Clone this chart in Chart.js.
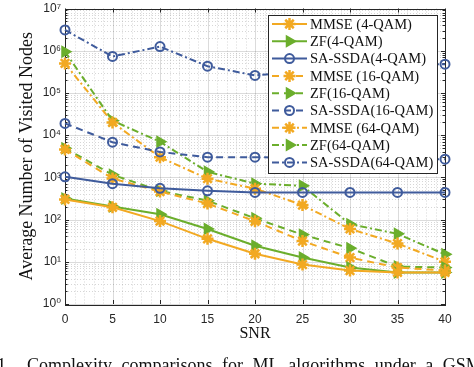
<!DOCTYPE html>
<html>
<head>
<meta charset="utf-8">
<script src="https://cdn.jsdelivr.net/npm/chart.js@4.4.1/dist/chart.umd.min.js"></script>
<style>
  html, body { margin: 0; padding: 0; background: #fff; overflow: hidden; }
  #wrap { position: relative; width: 474px; height: 367px; overflow: hidden; }
  .cap {
    position: absolute; top: 355px; white-space: nowrap; line-height: 18px;
    font: 18px "Liberation Serif", serif; color: #111;
  }
  #capNum { left: -3px; }
  #capText { left: 27px; word-spacing: 5px; }
</style>
</head>
<body>
<div id="wrap">
  <canvas id="chart" width="474" height="367"></canvas>
  <div class="cap" id="capNum">1.</div>
  <div class="cap" id="capText">Complexity comparisons for ML algorithms under a GSM MIMO system</div>
</div>
<script>
const snr = [0, 5, 10, 15, 20, 25, 30, 35, 40];

const mmse4 = [300, 195, 92, 35, 15.5, 8.6, 6.2, 5.6, 5.6];
const zf4 = [316, 205, 133, 60, 24, 12.6, 7.3, 5.6, 5.6];
const ssda4 = [1030, 710, 550, 480, 440, 440, 440, 440, 440];
const mmse16 = [4600, 940, 460, 240, 91, 31, 12.6, 7.3, 6.2];
const zf16 = [4900, 1150, 480, 280, 107, 44, 21, 7.7, 7.3];
const ssda16 = [19000, 6800, 4000, 3000, 3000, 2900, 2800, 2700, 2700];
const mmse64 = [500000, 20000, 3000, 930, 540, 220, 60, 27, 10];
const zf64 = [950000, 22000, 7000, 1350, 710, 630, 78, 46, 15];
const ssda64 = [3100000, 730000, 1250000, 430000, 260000, 320000, 400000, 470000, 480000];

const seriesNames = [
  'MMSE (4-QAM)', 'ZF(4-QAM)', 'SA-SSDA(4-QAM)',
  'MMSE (16-QAM)', 'ZF(16-QAM)', 'SA-SSDA(16-QAM)',
  'MMSE (64-QAM)', 'ZF(64-QAM)', 'SA-SSDA(64-QAM)'
];

const ORANGE = '#F2A922';
const GREEN = '#6BAE2C';
const BLUE = '#3F5B9C';
const AXIS = '#262626';

const SOLID = [];
const DASHED = [7, 5];
const DASHDOT = [7, 3, 2, 3];

function series(label, values, color, dash, kind) {
  const ds = {
    label: label,
    data: snr.map((x, i) => ({ x: x, y: values[i] })),
    borderColor: color,
    backgroundColor: color,
    borderWidth: 2,
    borderDash: dash,
    pointBorderColor: color,
    clip: false,
    tension: 0
  };
  if (kind === 'star') {
    ds.pointStyle = 'star';
    ds.pointRadius = 6;
    ds.pointBorderWidth = 2.5;
    ds.pointBackgroundColor = color;
  } else if (kind === 'tri') {
    ds.pointStyle = 'triangle';
    ds.pointRotation = 90;
    ds.pointRadius = 6;
    ds.pointBorderWidth = 1.5;
    ds.pointBackgroundColor = color;
  } else {
    ds.pointStyle = 'circle';
    ds.pointRadius = 4.5;
    ds.pointBorderWidth = 2;
    ds.pointBackgroundColor = 'rgba(255,255,255,0)';
  }
  return ds;
}

const datasets = [
  series(seriesNames[0], mmse4, ORANGE, SOLID, 'star'),
  series(seriesNames[1], zf4, GREEN, SOLID, 'tri'),
  series(seriesNames[2], ssda4, BLUE, SOLID, 'circle'),
  series(seriesNames[3], mmse16, ORANGE, DASHED, 'star'),
  series(seriesNames[4], zf16, GREEN, DASHED, 'tri'),
  series(seriesNames[5], ssda16, BLUE, DASHED, 'circle'),
  series(seriesNames[6], mmse64, ORANGE, DASHDOT, 'star'),
  series(seriesNames[7], zf64, GREEN, DASHDOT, 'tri'),
  series(seriesNames[8], ssda64, BLUE, DASHDOT, 'circle')
];

const sup = ['\u2070', '\u00B9', '\u00B2', '\u00B3', '\u2074', '\u2075', '\u2076', '\u2077'];

// grid, box and inward ticks like a matlab axes
const gridBox = {
  id: 'gridBox',
  beforeDatasetsDraw(chart) {
    const { ctx, chartArea: a, scales: { x, y } } = chart;
    ctx.save();
    ctx.lineWidth = 1;
    // y grid
    for (let d = 0; d < 7; d++) {
      for (let m = 1; m <= 9; m++) {
        const py = Math.round(y.getPixelForValue(m * Math.pow(10, d))) + 0.5;
        ctx.beginPath();
        if (m === 1) { ctx.setLineDash([]); ctx.strokeStyle = 'rgba(0,0,0,0.14)'; }
        else { ctx.setLineDash([1, 2]); ctx.strokeStyle = 'rgba(0,0,0,0.16)'; }
        ctx.moveTo(a.left, py); ctx.lineTo(a.right, py); ctx.stroke();
      }
    }
    // x grid
    for (let v = 0; v <= 40; v++) {
      const px = Math.round(x.getPixelForValue(v)) + 0.5;
      ctx.beginPath();
      if (v % 5 === 0) { ctx.setLineDash([]); ctx.strokeStyle = 'rgba(0,0,0,0.14)'; }
      else { ctx.setLineDash([1, 2]); ctx.strokeStyle = 'rgba(0,0,0,0.16)'; }
      ctx.moveTo(px, a.top); ctx.lineTo(px, a.bottom); ctx.stroke();
    }
    ctx.setLineDash([]);
    ctx.strokeStyle = AXIS;
    // ticks
    ctx.beginPath();
    for (let v = 0; v <= 40; v += 5) {
      const px = Math.round(x.getPixelForValue(v)) + 0.5;
      ctx.moveTo(px, a.bottom); ctx.lineTo(px, a.bottom - 4);
      ctx.moveTo(px, a.top); ctx.lineTo(px, a.top + 4);
    }
    for (let d = 0; d < 7; d++) {
      for (let m = 1; m <= 9; m++) {
        const py = Math.round(y.getPixelForValue(m * Math.pow(10, d))) + 0.5;
        const len = m === 1 ? 4 : 2.5;
        ctx.moveTo(a.left, py); ctx.lineTo(a.left + len, py);
        ctx.moveTo(a.right, py); ctx.lineTo(a.right - len, py);
      }
    }
    ctx.stroke();
    ctx.strokeRect(Math.round(a.left) + 0.5, Math.round(a.top) + 0.5,
      Math.round(a.right - a.left), Math.round(a.bottom - a.top));
    ctx.restore();
  }
};

// legend box drawn inside the plot, upper right
const insideLegend = {
  id: 'insideLegend',
  afterDraw(chart) {
    const ctx = chart.ctx;
    const bx = 268, by = 15, bw = 169, bh = 158;
    ctx.save();
    ctx.fillStyle = '#fff';
    ctx.fillRect(bx, by, bw, bh);
    ctx.strokeStyle = AXIS;
    ctx.lineWidth = 1;
    ctx.strokeRect(bx + 0.5, by + 0.5, bw, bh);
    chart.data.datasets.forEach((ds, i) => {
      const cy = 24 + i * 17.3;
      ctx.strokeStyle = ds.borderColor;
      ctx.lineWidth = 2;
      ctx.setLineDash(ds.borderDash);
      ctx.beginPath();
      ctx.moveTo(272, cy); ctx.lineTo(307, cy);
      ctx.stroke();
      ctx.setLineDash([]);
      ctx.fillStyle = ds.pointBackgroundColor;
      ctx.strokeStyle = ds.pointBorderColor;
      ctx.lineWidth = ds.pointBorderWidth;
      Chart.helpers.drawPoint(ctx, {
        pointStyle: ds.pointStyle,
        rotation: ds.pointRotation || 0,
        radius: ds.pointRadius,
        borderWidth: ds.pointBorderWidth
      }, 289.5, cy);
      ctx.fillStyle = '#111';
      ctx.font = '14.5px "Liberation Serif", serif';
      ctx.textBaseline = 'middle';
      ctx.textAlign = 'left';
      ctx.fillText(ds.label, 310, cy + 1);
    });
    ctx.restore();
  }
};

new Chart(document.getElementById('chart'), {
  type: 'line',
  data: { datasets: datasets },
  options: {
    responsive: false,
    animation: false,
    devicePixelRatio: 1,
    layout: { padding: { left: 0, top: 5, right: 29, bottom: 24 } },
    plugins: { legend: { display: false }, tooltip: { enabled: false } },
    scales: {
      x: {
        type: 'linear',
        min: 0,
        max: 40,
        grid: { display: false, drawTicks: false, tickLength: 0 },
        border: { display: false },
        ticks: {
          stepSize: 5,
          padding: 8,
          color: AXIS,
          font: { family: '"Liberation Sans", sans-serif', size: 12 }
        },
        title: {
          display: true,
          text: 'SNR',
          color: '#111',
          padding: { top: 0, bottom: 0 },
          font: { family: '"Liberation Serif", serif', size: 16 }
        },
        afterFit(axis) {
          axis.height = 39;
          axis.paddingLeft = 0;
          axis.paddingRight = 0;
        }
      },
      y: {
        type: 'logarithmic',
        min: 1,
        max: 1e7,
        grid: { display: false, drawTicks: false, tickLength: 0 },
        border: { display: false },
        ticks: {
          autoSkip: false,
          padding: 4,
          color: AXIS,
          font: { family: '"Liberation Sans", "DejaVu Sans", sans-serif', size: 12 },
          callback(v) {
            const e = Math.log10(v);
            const r = Math.round(e);
            return Math.abs(e - r) < 1e-9 ? '10' + sup[r] : null;
          }
        },
        title: {
          display: true,
          text: 'Average Number of Visited Nodes',
          color: '#111',
          padding: { top: 16, bottom: 0 },
          font: { family: '"Liberation Serif", serif', size: 18 }
        },
        afterFit(axis) {
          axis.width = 65;
          axis.paddingTop = 0;
          axis.paddingBottom = 0;
        }
      }
    }
  },
  plugins: [gridBox, insideLegend]
});
</script>
</body>
</html>
